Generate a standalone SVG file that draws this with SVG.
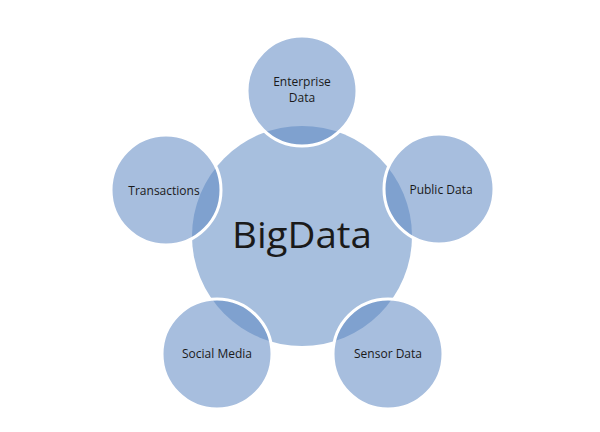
<svg xmlns="http://www.w3.org/2000/svg" width="600" height="432" viewBox="0 0 600 432">
  <style>
    .center { fill: #a7bfde; }
    .outer { fill: #5e89c2; fill-opacity: 0.55; stroke: #ffffff; stroke-width: 3; }
    .lbl { font-family: "Open Sans", "Liberation Sans", sans-serif; font-size: 12px; fill: #1a1a1a; text-anchor: middle; }
    .big { font-family: "Open Sans", "Liberation Sans", sans-serif; font-size: 36px; fill: #1a1a1a; text-anchor: middle; }
  </style>
  <rect width="600" height="432" fill="#ffffff"/>
  <g id="connectors"></g>
  <g id="bigdata">
    <circle class="center" cx="302" cy="236" r="110"/>
    <text class="big" x="302" y="248" textLength="140" lengthAdjust="spacingAndGlyphs">BigData</text>
  </g>
  <g id="enterprise">
    <circle class="outer" cx="302" cy="91" r="55"/>
    <text class="lbl" x="302" y="86">Enterprise</text>
    <text class="lbl" x="302" y="102">Data</text>
  </g>
  <g id="public">
    <circle class="outer" cx="439" cy="189" r="55"/>
    <text class="lbl" x="441" y="194">Public Data</text>
  </g>
  <g id="sensor">
    <circle class="outer" cx="388" cy="354" r="55"/>
    <text class="lbl" x="388" y="358">Sensor Data</text>
  </g>
  <g id="social">
    <circle class="outer" cx="217" cy="354" r="55"/>
    <text class="lbl" x="217" y="358">Social Media</text>
  </g>
  <g id="transactions">
    <circle class="outer" cx="166" cy="190" r="55"/>
    <text class="lbl" x="164" y="195">Transactions</text>
  </g>
</svg>
